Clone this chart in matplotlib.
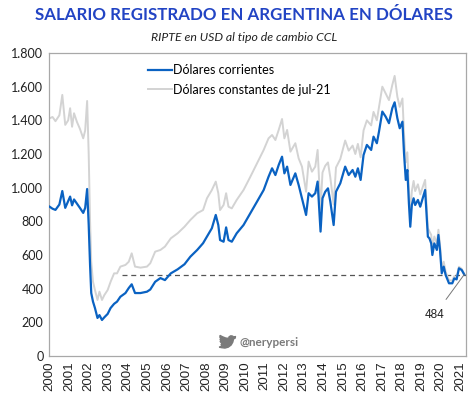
import matplotlib
matplotlib.use("Agg")
import matplotlib.pyplot as plt
from matplotlib.patches import Polygon
from matplotlib.ticker import FuncFormatter

# posición temporal (año decimal) y valores
fechas = [
    2000.00, 2000.15, 2000.30, 2000.50, 2000.65, 2000.80, 2000.95, 2001.05, 2001.15, 2001.25,
    2001.40, 2001.55, 2001.72, 2001.82, 2001.92, 2002.00, 2002.07, 2002.13, 2002.22, 2002.32,
    2002.45, 2002.55, 2002.68, 2002.80, 2002.97, 2003.12, 2003.30, 2003.45, 2003.62, 2003.88,
    2004.05, 2004.20, 2004.37, 2004.65, 2004.98, 2005.15, 2005.40, 2005.67, 2005.90, 2006.20,
    2006.55, 2006.90, 2007.20, 2007.55, 2007.85, 2008.05, 2008.30, 2008.50, 2008.63, 2008.72,
    2008.90, 2009.03, 2009.15, 2009.32, 2009.57, 2009.92, 2010.27, 2010.61, 2010.95, 2011.20,
    2011.38, 2011.55, 2011.72, 2011.89, 2012.01, 2012.15, 2012.32, 2012.57, 2012.74, 2012.91,
    2013.12, 2013.25, 2013.42, 2013.59, 2013.71, 2013.86, 2013.96, 2014.10, 2014.24, 2014.36,
    2014.53, 2014.65, 2014.87, 2015.12, 2015.30, 2015.50, 2015.64, 2015.77, 2015.91, 2016.06,
    2016.23, 2016.45, 2016.57, 2016.74, 2016.85, 2017.02, 2017.19, 2017.36, 2017.53, 2017.65,
    2017.79, 2017.91, 2018.05, 2018.13, 2018.22, 2018.30, 2018.38, 2018.45, 2018.53, 2018.62,
    2018.70, 2018.84, 2018.96, 2019.21, 2019.35, 2019.43, 2019.52, 2019.58, 2019.68, 2019.81,
    2019.89, 2019.97, 2020.06, 2020.16, 2020.26, 2020.43, 2020.60, 2020.70, 2020.82, 2020.94,
    2021.08, 2021.21,
]

corrientes = [
    887, 875, 868, 900, 980, 880, 920, 947, 895, 930,
    905, 880, 850, 880, 992, 780, 540, 374, 323, 285,
    226, 243, 214, 230, 250, 285, 310, 323, 352, 374,
    404, 426, 374, 374, 382, 395, 441, 463, 451, 491,
    515, 545, 590, 630, 670, 709, 759, 838, 778, 689,
    679, 764, 689, 679, 729, 778, 848, 917, 986, 1065,
    1115, 1075, 1135, 1184, 1085, 1125, 1016, 1085, 1016, 937,
    838, 967, 947, 967, 1036, 739, 937, 976, 996, 917,
    778, 976, 1026, 1125, 1075, 1105, 1065, 1115, 1046, 1194,
    1254, 1224, 1303, 1264, 1333, 1452, 1422, 1383, 1472, 1507,
    1412, 1353, 1392, 1204, 1046, 1105, 907, 768, 897, 937,
    897, 927, 887, 986, 709, 699, 669, 600, 669, 630,
    719, 630, 491, 531, 481, 432, 432, 461, 455, 521,
    511, 484,
]

constantes = [
    1412, 1420, 1395, 1430, 1551, 1373, 1400, 1472, 1362, 1442,
    1390, 1350, 1293, 1340, 1515, 1200, 800, 560, 441, 392,
    333, 382, 333, 362, 392, 441, 491, 491, 531, 541,
    560, 610, 531, 525, 531, 551, 620, 630, 650, 699,
    729, 768, 808, 848, 867, 937, 986, 1036, 967, 867,
    897, 967, 887, 877, 927, 986, 1065, 1145, 1224, 1293,
    1313, 1283, 1343, 1408, 1293, 1343, 1214, 1264, 1174, 1125,
    976, 1155, 1095, 1125, 1224, 870, 1090, 1130, 1150, 1060,
    900, 1120, 1170, 1280, 1220, 1250, 1200, 1260, 1180, 1340,
    1400, 1370, 1450, 1400, 1480, 1600, 1560, 1520, 1610, 1664,
    1540, 1480, 1530, 1320, 1150, 1210, 990, 840, 980, 1040,
    980, 1020, 960, 1046, 760, 740, 720, 640, 710, 670,
    750, 660, 520, 560, 500, 450, 448, 475, 466, 530,
    518, 487,
]

anios = list(range(2000, 2022))
nivel_actual = 484
inicio_ref = 2003.68

AZUL = "#0a62c2"
GRIS = "#d3d3d3"

fig = plt.figure(figsize=(4.74, 4.03), dpi=100)
ax = fig.add_axes([0.1034, 0.1166, 0.8797, 0.7519])

ax.plot(fechas, constantes, color=GRIS, lw=1.4, label="Dólares constantes de jul-21", zorder=2)
ax.plot(fechas, corrientes, color=AZUL, lw=1.6, label="Dólares corrientes", zorder=3)
ax.hlines(nivel_actual, inicio_ref, 2021.3, colors="#555555", linestyles=(0, (4, 3)), lw=0.9, zorder=1)

ax.annotate(str(nivel_actual), xy=(fechas[-1], corrientes[-1]), xytext=(2019.7, 244),
            fontsize=8.5, family="Liberation Sans", color="#222222", va="center", ha="center",
            arrowprops=dict(arrowstyle="-", color="#777777", lw=0.7, shrinkA=6, shrinkB=0))

ax.set_xlim(1999.97, 2021.3)
ax.set_ylim(0, 1800)
ax.set_yticks(range(0, 1801, 200))
ax.yaxis.set_major_formatter(FuncFormatter(lambda v, p: f"{int(v):,}".replace(",", ".")))
ax.set_xticks(anios)
ax.set_xticklabels([str(a) for a in anios], rotation=90, family="Liberation Sans", fontsize=9.5)
for lab in ax.get_yticklabels():
    lab.set_family("Lato")
    lab.set_fontsize(9)
ax.tick_params(length=0, pad=4, colors="#222222")

for s in ax.spines.values():
    s.set_color("#a8a8a8")
    s.set_linewidth(0.9)

handles, labels = ax.get_legend_handles_labels()
leg = ax.legend(handles[::-1], labels[::-1], loc="upper left", bbox_to_anchor=(0.21, 1.0),
                frameon=False, prop={"family": "Lato", "size": 9}, handlelength=1.9,
                handletextpad=0.15, labelspacing=0.6)

# marca de agua: pajarito + usuario
ax.text(0.458, 0.046, "@nerypersi", transform=ax.transAxes, ha="left", va="center",
        family="Lato", fontsize=8.5, fontweight="bold", color="#7a7a7a")
forma = [(0.0, 0.12), (0.15, 0.08), (0.35, 0.05), (0.55, 0.12), (0.72, 0.28), (0.82, 0.5),
         (0.86, 0.72), (0.97, 0.82), (0.9, 0.8), (1.0, 0.92), (0.88, 0.88), (0.8, 0.95),
         (0.7, 0.97), (0.6, 0.9), (0.57, 0.78), (0.4, 0.8), (0.2, 0.9), (0.05, 1.0),
         (0.05, 0.85), (0.12, 0.7), (0.05, 0.72), (0.12, 0.55), (0.05, 0.56), (0.15, 0.42),
         (0.22, 0.35), (0.1, 0.32), (0.2, 0.22)]
x0, y0, w, h = 0.408, 0.024, 0.040, 0.044
pajaro = [(x0 + px * w, y0 + py * h) for px, py in forma]
ax.add_patch(Polygon(pajaro, closed=True, transform=ax.transAxes, color="#7a7a7a", zorder=4))

fig.text(0.515, 0.962, "SALARIO REGISTRADO EN ARGENTINA EN DÓLARES", ha="center", va="center",
         family="Lato", fontweight="bold", fontsize=12.2, color="#2244c4")
fig.text(0.515, 0.908, "RIPTE en USD al tipo de cambio CCL", ha="center", va="center",
         family="Lato", fontstyle="italic", fontsize=8.8, color="#222222")

fig.savefig("out.png", dpi=100)
